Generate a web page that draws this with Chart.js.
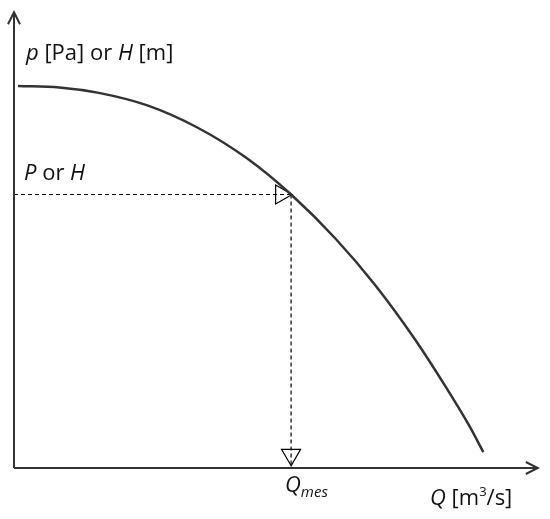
<!DOCTYPE html>
<html><head><meta charset="utf-8">
<script src="https://cdn.jsdelivr.net/npm/chart.js@4"></script>
<style>html,body{margin:0;background:#fff}#w{width:550px;height:519px}</style>
</head><body><div id="w"><canvas id="c"></canvas></div>
<script>
const curveQ = [0.75, 8.66, 16.2, 25.6, 35.0, 44.4, 52.9, 61.4, 68.9, 76.5, 82.1, 86.8, 89.6];
const curveH = [83.8, 83.5, 82.3, 79.5, 74.7, 68.0, 60.0, 50.3, 40.2, 28.3, 18.4, 9.5, 3.5];
const opQ = 52.9, opH = 60.0;

const col = '#333';
function runs(ctx, parts, x, y){
  for(const [t, f, dy] of parts){ ctx.font = f; ctx.fillText(t, x, y + (dy||0)); x += ctx.measureText(t).width; }
}
const deco = {
  id:'deco',
  afterDatasetsDraw(ch){
    const {ctx, chartArea:a} = ch;
    ctx.save(); ctx.strokeStyle=col; ctx.lineWidth=2; ctx.fillStyle='#111';
    ctx.beginPath(); ctx.moveTo(a.left,a.bottom); ctx.lineTo(a.left,a.top); ctx.moveTo(a.left,a.bottom); ctx.lineTo(a.right,a.bottom); ctx.stroke();
    ctx.beginPath(); ctx.moveTo(a.left-6,a.top+12); ctx.lineTo(a.left,a.top); ctx.lineTo(a.left+6,a.top+12);
    ctx.moveTo(a.right-12,a.bottom-6); ctx.lineTo(a.right,a.bottom); ctx.lineTo(a.right-12,a.bottom+6); ctx.stroke();
    ctx.textBaseline='alphabetic';
    const R='22px "Open Sans"', I='italic 22px "Open Sans"', S='italic 15px "Open Sans"', P='13px "Open Sans"';
    runs(ctx, [['p',I],[' [Pa] or ',R],['H',I],[' [m]',R]], 26, 60);
    runs(ctx, [['P',I],[' or ',R],['H',I]], 24, 180);
    runs(ctx, [['Q',I],['mes',S,5]], 285, 492);
    runs(ctx, [['Q',I],[' [m',R],['3',P,-9],['/s]',R]], 430, 505);
    ctx.restore();
  }
};
new Chart(document.getElementById('c'), {
  type:'line',
  data:{datasets:[
    {data:curveQ.map((q,i)=>({x:q,y:curveH[i]})), borderColor:col, borderWidth:2.5, pointRadius:0, cubicInterpolationMode:'monotone'},
    {data:[{x:0,y:opH},{x:opQ,y:opH}], borderColor:'#000', borderWidth:1.2, borderDash:[4,3], pointRadius:0},
    {data:[{x:opQ,y:opH},{x:opQ,y:0}], borderColor:'#000', borderWidth:1.2, borderDash:[4,3], pointRadius:0},
    {data:[{x:opQ-1.9,y:opH},{x:opQ,y:2.9}], showLine:false, pointStyle:'triangle', pointRadius:11,
     rotation:[90,180], pointBackgroundColor:'#fff', pointBorderColor:'#000', pointBorderWidth:1.2}
  ]},
  options:{responsive:true, maintainAspectRatio:false, animation:false,
    layout:{padding:{left:14,right:0,top:5,bottom:51}},
    plugins:{legend:{display:false},tooltip:{enabled:false}},
    scales:{x:{type:'linear',min:0,max:100,display:false},y:{min:0,max:100,display:false}}},
  plugins:[deco]
});
</script></body></html>
